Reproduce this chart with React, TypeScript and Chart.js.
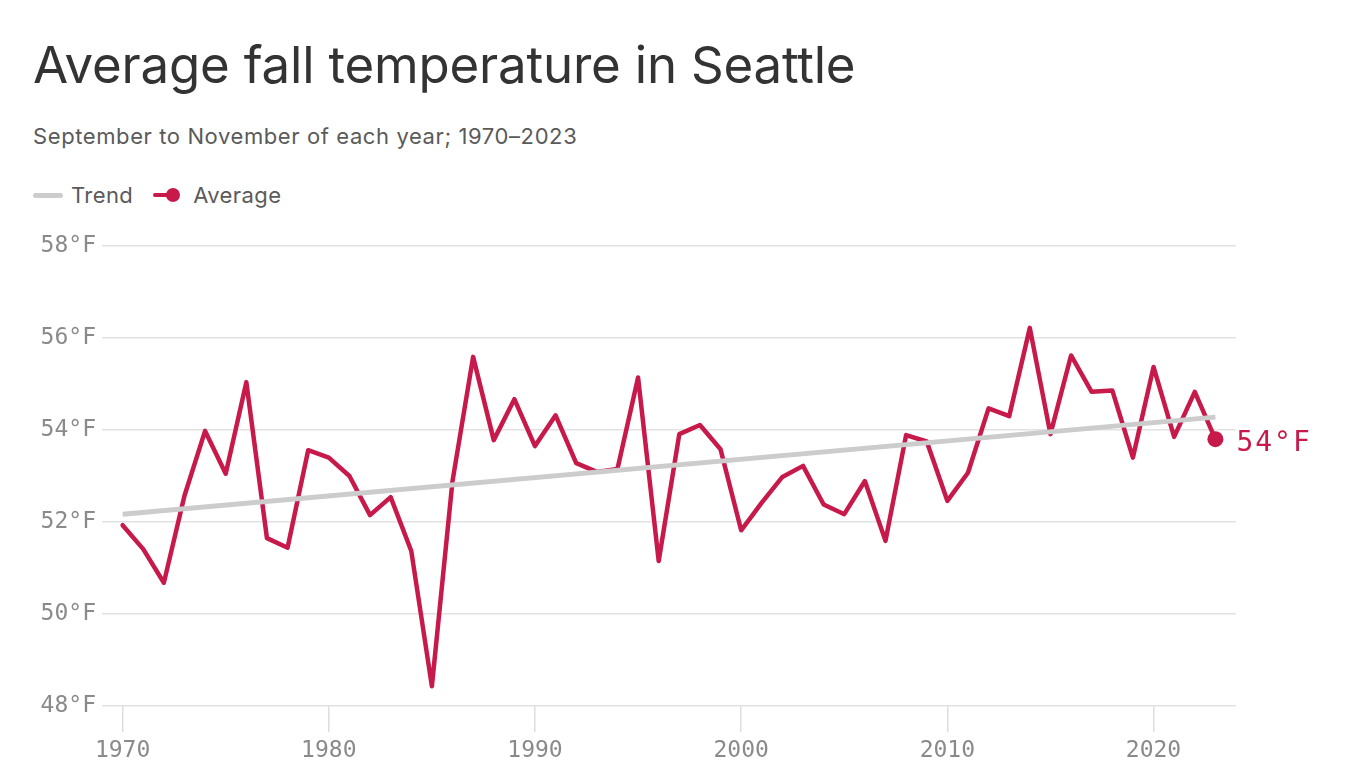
import React, { useEffect, useRef } from "react";
import { Chart, registerables } from "chart.js";

Chart.register(...registerables);

// Fall (Sep–Nov) average temperature in Seattle, °F
const years = [
  1970, 1971, 1972, 1973, 1974, 1975, 1976, 1977, 1978, 1979,
  1980, 1981, 1982, 1983, 1984, 1985, 1986, 1987, 1988, 1989,
  1990, 1991, 1992, 1993, 1994, 1995, 1996, 1997, 1998, 1999,
  2000, 2001, 2002, 2003, 2004, 2005, 2006, 2007, 2008, 2009,
  2010, 2011, 2012, 2013, 2014, 2015, 2016, 2017, 2018, 2019,
  2020, 2021, 2022, 2023,
];

const averageTemps = [
  51.93, 51.41, 50.68, 52.57, 53.98, 53.05, 55.04, 51.65, 51.44, 53.56,
  53.4, 53.0, 52.15, 52.54, 51.37, 48.43, 52.89, 55.59, 53.78, 54.67,
  53.65, 54.32, 53.28, 53.09, 53.15, 55.14, 51.15, 53.91, 54.11, 53.58,
  51.82, 52.42, 52.98, 53.22, 52.38, 52.17, 52.89, 51.59, 53.89, 53.75,
  52.46, 53.07, 54.47, 54.3, 56.22, 53.91, 55.62, 54.83, 54.86, 53.4,
  55.37, 53.85, 54.83, 53.8,
];

// Linear trend endpoints
const trendYears = [1970, 2023];
const trendTemps = [52.17, 54.28];

const xTickYears = [1970, 1980, 1990, 2000, 2010, 2020];
const yTickValues = [48, 50, 52, 54, 56, 58];

const RED = "#c71a4b";
const TREND_GREY = "#cccccc";
const MONO = "'DejaVu Sans Mono', 'Liberation Mono', monospace";
const SANS = "Inter, 'Noto Sans', sans-serif";

export default function App() {
  const canvasRef = useRef<HTMLCanvasElement | null>(null);

  useEffect(() => {
    const canvas = canvasRef.current;
    if (!canvas) return;

    const lastIndex = averageTemps.length - 1;

    const endLabel = {
      id: "endLabel",
      afterDatasetsDraw(chart: any) {
        const meta = chart.getDatasetMeta(1);
        const pt = meta.data[lastIndex];
        if (!pt) return;
        const ctx = chart.ctx;
        ctx.save();
        ctx.font = `28px ${MONO}`;
        (ctx as any).letterSpacing = "2px";
        ctx.fillStyle = RED;
        ctx.textAlign = "left";
        ctx.textBaseline = "middle";
        ctx.fillText(`${Math.round(averageTemps[lastIndex])}°F`, pt.x + 21, pt.y + 5);
        ctx.restore();
      },
    };

    const chart = new Chart(canvas, {
      type: "line",
      data: {
        datasets: [
          {
            label: "Trend",
            data: trendYears.map((x, i) => ({ x, y: trendTemps[i] })),
            borderColor: TREND_GREY,
            borderWidth: 5,
            pointRadius: 0,
            borderCapStyle: "butt",
          },
          {
            label: "Average",
            data: years.map((x, i) => ({ x, y: averageTemps[i] })),
            borderColor: RED,
            backgroundColor: RED,
            borderWidth: 4.5,
            borderJoinStyle: "round",
            borderCapStyle: "round",
            pointRadius: (c: any) => (c.dataIndex === lastIndex ? 8 : 0),
            pointBorderWidth: 0,
            pointHoverRadius: 0,
          },
        ],
      },
      options: {
        animation: false,
        responsive: false,
        maintainAspectRatio: false,
        events: [],
        layout: { padding: { top: 21, right: 130, left: 0, bottom: 0 } },
        plugins: {
          legend: { display: false },
          tooltip: { enabled: false },
          title: { display: false },
        },
        scales: {
          x: {
            type: "linear",
            min: 1969,
            max: 2024,
            afterBuildTicks: (axis: any) => {
              axis.ticks = xTickYears.map((v) => ({ value: v }));
            },
            afterFit: (axis: any) => {
              axis.height = 62;
            },
            border: { display: false },
            grid: {
              drawOnChartArea: false,
              drawTicks: true,
              tickLength: 26,
              color: "#dddddd",
              lineWidth: 1.5,
            },
            ticks: {
              color: "#8a8a8a",
              font: { family: MONO, size: 23 },
              padding: 5,
              maxRotation: 0,
              autoSkip: false,
              callback: (v: any) => String(v),
            },
          },
          y: {
            min: 48,
            max: 58,
            afterBuildTicks: (axis: any) => {
              axis.ticks = yTickValues.map((v) => ({ value: v }));
            },
            afterFit: (axis: any) => {
              axis.width = 102;
            },
            border: { display: false },
            grid: {
              drawTicks: false,
              color: "#e2e2e2",
              lineWidth: 1.5,
            },
            ticks: {
              color: "#8a8a8a",
              font: { family: MONO, size: 23 },
              padding: 6,
              callback: (v: any) => `${v}°F`,
            },
          },
        },
      },
      plugins: [endLabel],
    });

    return () => chart.destroy();
  }, []);

  return (
    <div
      style={{
        position: "absolute",
        left: 0,
        top: 0,
        width: 1366,
        height: 768,
        background: "#ffffff",
        fontFamily: SANS,
        overflow: "hidden",
      }}
    >
      <div
        style={{
          position: "absolute",
          left: 33,
          top: 39,
          fontSize: 51,
          lineHeight: 1,
          color: "#333333",
          whiteSpace: "nowrap",
          letterSpacing: -0.2,
        }}
      >
        Average fall temperature in Seattle
      </div>
      <div
        style={{
          position: "absolute",
          left: 33,
          top: 125,
          fontSize: 22,
          lineHeight: 1,
          color: "#5a5a5a",
          whiteSpace: "nowrap",
          letterSpacing: 0.6,
        }}
      >
        September to November of each year; 1970–2023
      </div>
      <div
        style={{
          position: "absolute",
          left: 33,
          top: 184,
          height: 22,
          display: "flex",
          alignItems: "center",
          fontSize: 22,
          lineHeight: 1,
          color: "#5a5a5a",
          whiteSpace: "nowrap",
          letterSpacing: 0.4,
        }}
      >
        <span
          style={{
            display: "inline-block",
            width: 30,
            height: 5,
            borderRadius: 3,
            background: TREND_GREY,
            marginRight: 8,
          }}
        />
        <span style={{ marginRight: 20 }}>Trend</span>
        <span style={{ position: "relative", display: "inline-block", width: 27, height: 14, marginRight: 13 }}>
          <span
            style={{
              position: "absolute",
              left: 0,
              top: 5,
              width: 20,
              height: 4,
              borderRadius: 2,
              background: RED,
            }}
          />
          <span
            style={{
              position: "absolute",
              left: 13,
              top: 0,
              width: 14,
              height: 14,
              borderRadius: 7,
              background: RED,
            }}
          />
        </span>
        <span>Average</span>
      </div>
      <canvas
        ref={canvasRef}
        width={1366}
        height={543}
        style={{ position: "absolute", left: 0, top: 225, width: 1366, height: 543 }}
      />
    </div>
  );
}
